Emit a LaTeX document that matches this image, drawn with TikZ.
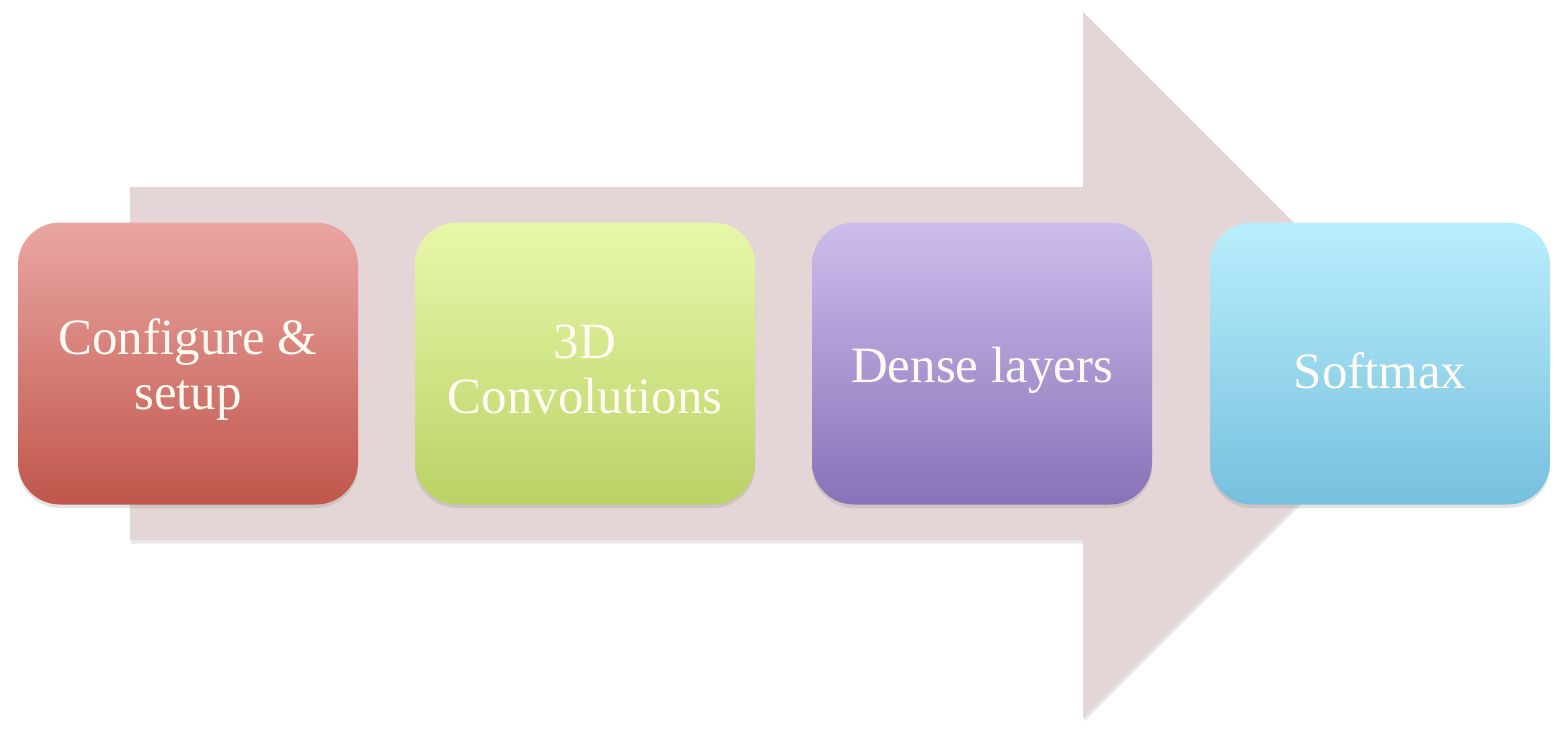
\documentclass[tikz,border=0pt]{standalone}
\usepackage{fontspec}
\setmainfont{Liberation Serif}
\usetikzlibrary{shadows}
\definecolor{arrowfill}{RGB}{228,214,214}
\definecolor{txtcol}{RGB}{255,250,242}
\definecolor{redtop}{RGB}{234,166,162}
\definecolor{redbot}{RGB}{192,86,76}
\definecolor{greentop}{RGB}{232,248,170}
\definecolor{greenbot}{RGB}{186,210,102}
\definecolor{violettop}{RGB}{204,190,236}
\definecolor{violetbot}{RGB}{136,114,184}
\definecolor{bluetop}{RGB}{186,238,252}
\definecolor{bluebot}{RGB}{118,192,222}
\tikzset{
  stage/.style={rounded corners=0.42cm,minimum width=3.4cm,minimum height=2.82cm,
    drop shadow={opacity=0.22,shadow xshift=0cm,shadow yshift=-0.035cm}},
  stagetext/.style={align=center,text=txtcol,font=\fontsize{14.5}{15.5}\selectfont}
}
\begin{document}
\begin{tikzpicture}
\useasboundingbox (0,0) rectangle (15.68,7.41);
% big arrow behind the stages
\fill[arrowfill,drop shadow={opacity=0.18,shadow xshift=0.01cm,shadow yshift=-0.035cm}]
  (1.30,2.01) -- (1.30,5.54) -- (10.83,5.54) -- (10.83,7.29) -- (14.36,3.76)
  -- (10.83,0.23) -- (10.83,2.01) -- cycle;

\node[stage,top color=redtop,bottom color=redbot] (setup) at (1.88,3.775) {};
\node[stage,top color=greentop,bottom color=greenbot] (conv) at (5.85,3.775) {};
\node[stage,top color=violettop,bottom color=violetbot] (dense) at (9.82,3.775) {};
\node[stage,top color=bluetop,bottom color=bluebot] (softmax) at (13.80,3.775) {};

\node[stagetext] (setuptxt) at ([yshift=-0.06cm]setup) {Configure \&\\setup};
\node[stagetext] (convtxt) at ([yshift=-0.06cm]conv) {3D\\Convolutions};
\node[stagetext] (densetxt) at ([yshift=-0.07cm]dense) {Dense layers};
\node[stagetext] (softmaxtxt) at ([yshift=-0.07cm]softmax) {Softmax};
\end{tikzpicture}
\end{document}
